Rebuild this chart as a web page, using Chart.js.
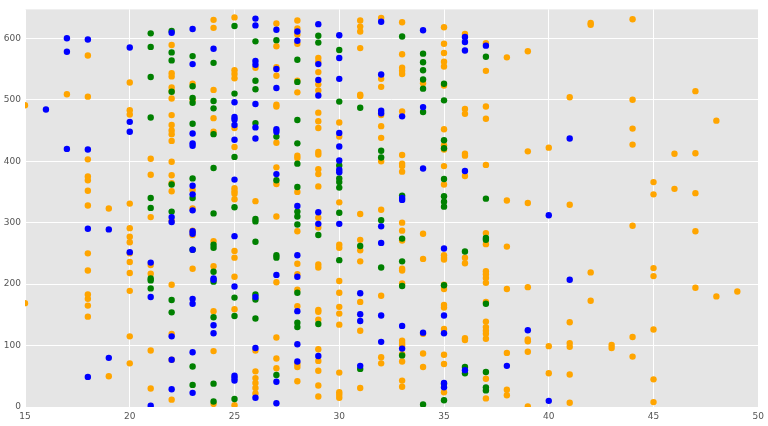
<!DOCTYPE html>
<html>
<head>
<meta charset="utf-8">
<script src="https://cdn.jsdelivr.net/npm/chart.js@4"></script>
<style>
  html, body { margin: 0; padding: 0; background: #fff; }
  #wrap { width: 768px; height: 426px; }
</style>
</head>
<body>
<div id="wrap"><canvas id="scatter"></canvas></div>
<script>
// [age-like x, y] pairs, one list per colour
const orangePts = [
  [15,491],[15,169],[17,509],
  [18,572],[18,505],[18,403],[18,375],[18,369],[18,352],[18,328],[18,250],[18,222],[18,183],[18,176],[18,165],[18,147],
  [19,323],[19,50],
  [20,528],[20,483],[20,476],[20,331],[20,291],[20,277],[20,268],[20,250],[20,236],[20,218],[20,189],[20,115],[20,71],
  [21,404],[21,378],[21,309],[21,231],[21,217],[21,92],[21,30],
  [22,589],[22,543],[22,538],[22,520],[22,514],[22,502],[22,475],[22,459],[22,450],[22,444],[22,433],[22,399],[22,377],[22,364],[22,351],[22,303],[22,199],[22,119],[22,77],[22,12],
  [23,526],[23,500],[23,353],[23,323],[23,287],[23,280],[23,225],
  [24,630],[24,617],[24,516],[24,470],[24,448],[24,270],[24,229],[24,156],[24,91],[24,5],
  [25,634],[25,548],[25,542],[25,535],[25,454],[25,423],[25,356],[25,351],[25,347],[25,338],[25,254],[25,243],[25,212],[25,159],[25,3],
  [26,552],[26,335],[26,92],[26,58],[26,47],[26,39],[26,31],[26,22],
  [27,624],[27,587],[27,553],[27,539],[27,492],[27,489],[27,430],[27,390],[27,363],[27,310],[27,203],[27,113],[27,79],[27,63],
  [28,629],[28,616],[28,606],[28,591],[28,531],[28,512],[28,409],[28,405],[28,350],[28,286],[28,233],[28,216],[28,191],[28,164],[28,70],[28,65],[28,42],
  [29,568],[29,562],[29,545],[29,525],[29,515],[29,479],[29,465],[29,454],[29,415],[29,411],[29,387],[29,379],[29,359],[29,308],[29,292],[29,232],[29,227],[29,158],[29,155],[29,142],[29,94],[29,75],[29,59],[29,35],[29,17],
  [30,463],[30,440],[30,333],[30,264],[30,259],[30,205],[30,186],[30,163],[30,152],[30,134],[30,56],[30,24],[30,20],[30,15],
  [31,629],[31,619],[31,611],[31,584],[31,508],[31,506],[31,314],[31,272],[31,255],[31,237],[31,171],[31,124],[31,31],
  [32,633],[32,534],[32,521],[32,475],[32,457],[32,438],[32,400],[32,321],[32,181],[32,81],[32,71],
  [33,626],[33,574],[33,552],[33,547],[33,542],[33,481],[33,410],[33,396],[33,392],[33,383],[33,300],[33,287],[33,271],[33,225],[33,222],[33,201],[33,108],[33,104],[33,100],[33,86],[33,74],[33,43],[33,33],
  [34,527],[34,282],[34,241],[34,119],[34,87],[34,65],
  [35,618],[35,591],[35,576],[35,562],[35,554],[35,523],[35,452],[35,426],[35,419],[35,392],[35,362],[35,247],[35,243],[35,240],[35,199],[35,192],[35,166],[35,162],[35,127],[35,85],[35,70],[35,24],
  [36,607],[36,485],[36,477],[36,412],[36,409],[36,376],[36,243],[36,234],[36,112],[36,109],
  [37,592],[37,547],[37,489],[37,469],[37,394],[37,283],[37,265],[37,221],[37,216],[37,210],[37,202],[37,171],[37,139],[37,130],[37,124],[37,119],[37,111],[37,46],[37,14],
  [38,569],[38,336],[38,261],[38,192],[38,88],[38,28],[38,19],
  [39,579],[39,416],[39,332],[39,195],[39,110],[39,107],[39,90],[39,1],
  [40,422],[40,99],[40,55],
  [41,504],[41,329],[41,138],[41,104],[41,98],[41,53],[41,7],
  [42,625],[42,622],[42,219],[42,173],
  [43,101],[43,96],
  [44,631],[44,500],[44,453],[44,427],[44,295],[44,114],[44,82],
  [45,366],[45,346],[45,226],[45,213],[45,126],[45,45],[45,8],
  [46,412],[46,355],
  [47,514],[47,413],[47,348],[47,286],[47,194],
  [48,466],[48,180],
  [49,188]
];

const greenPts = [
  [21,608],[21,586],[21,537],[21,471],[21,340],[21,324],[21,209],[21,206],[21,193],
  [22,612],[22,577],[22,564],[22,513],[22,362],[22,318],[22,174],[22,154],
  [23,571],[23,522],[23,503],[23,495],[23,461],[23,372],[23,340],[23,256],[23,66],[23,36],
  [24,560],[24,498],[24,486],[24,444],[24,389],[24,315],[24,264],[24,259],[24,220],[24,204],[24,146],[24,38],[24,9],
  [25,620],[25,510],[25,407],[25,325],[25,178],[25,148],[25,13],
  [26,595],[26,531],[26,517],[26,462],[26,306],[26,302],[26,269],[26,183],[26,175],[26,144],
  [27,597],[27,440],[27,369],[27,247],[27,243],[27,52],
  [28,565],[28,529],[28,467],[28,429],[28,396],[28,358],[28,318],[28,310],[28,297],[28,186],[28,137],[28,130],
  [29,604],[29,593],[29,280],[29,135],
  [30,581],[30,497],[30,393],[30,372],[30,366],[30,357],[30,316],[30,239],
  [31,487],[31,262],[31,62],
  [32,417],[32,406],[32,304],[32,227],
  [33,603],[33,344],[33,274],[33,237],[33,197],[33,84],
  [34,575],[34,561],[34,548],[34,533],[34,518],[34,480],[34,4],
  [35,526],[35,499],[35,434],[35,421],[35,371],[35,343],[35,334],[35,326],[35,198],[35,38],[35,11],
  [36,253],[36,65],[36,55],
  [37,570],[37,339],[37,275],[37,272],[37,168],[37,57],[37,32],[37,27]
];

const bluePts = [
  [16,484],[17,600],[17,578],[17,420],
  [18,598],[18,419],[18,290],[18,49],
  [19,289],[19,80],
  [20,585],[20,464],[20,448],[20,252],
  [21,235],[21,179],[21,2],
  [22,609],[22,309],[22,301],[22,115],[22,77],[22,29],
  [23,615],[23,558],[23,445],[23,429],[23,425],[23,360],[23,346],[23,320],[23,286],[23,282],[23,256],[23,176],[23,168],[23,89],[23,23],
  [24,583],[24,209],[24,207],[24,133],[24,120],
  [25,496],[25,472],[25,468],[25,459],[25,435],[25,370],[25,278],[25,196],[25,51],[25,47],[25,43],
  [26,632],[26,621],[26,563],[26,557],[26,493],[26,455],[26,437],[26,179],[26,96],[26,15],
  [27,614],[27,550],[27,519],[27,452],[27,448],[27,379],[27,215],[27,41],[27,6],
  [28,611],[28,596],[28,327],[28,247],[28,212],[28,156],[28,102],[28,74],
  [29,623],[29,558],[29,532],[29,507],[29,317],[29,298],[29,83],
  [30,605],[30,568],[30,534],[30,446],[30,424],[30,401],[30,386],[30,382],[30,298],
  [31,185],[31,151],[31,140],[31,67],
  [32,627],[32,541],[32,482],[32,478],[32,294],[32,267],[32,149],[32,106],
  [33,473],[33,340],[33,337],[33,132],[33,95],
  [34,613],[34,488],[34,388],[34,121],
  [35,258],[35,149],[35,120],[35,39],[35,32],
  [36,602],[36,594],[36,580],[36,384],[36,60],
  [37,588],[38,67],[39,125],[40,312],[40,10],[41,437],[41,207]
];

const xTicks = [15, 20, 25, 30, 35, 40, 45, 50];
const yTicks = [0, 100, 200, 300, 400, 500, 600];

function toXY(list) {
  return list.map(p => ({ x: p[0], y: p[1] }));
}

// grey ggplot-like panel behind the points
const panelBg = {
  id: 'panelBg',
  beforeDraw(chart) {
    const { ctx, chartArea: a } = chart;
    ctx.save();
    ctx.fillStyle = '#e5e5e5';
    ctx.fillRect(a.left, a.top, a.right - a.left, a.bottom - a.top);
    ctx.restore();
  }
};

const dot = (color) => ({
  backgroundColor: color,
  borderColor: color,
  pointRadius: 3.2,
  pointHoverRadius: 3.2,
  borderWidth: 0
});

new Chart(document.getElementById('scatter'), {
  type: 'scatter',
  data: {
    datasets: [
      { label: 'orange', data: toXY(orangePts), ...dot('#ffa500'), order: 3 },
      { label: 'green', data: toXY(greenPts), ...dot('#008000'), order: 2 },
      { label: 'blue', data: toXY(bluePts), ...dot('#0000ff'), order: 1 }
    ]
  },
  options: {
    responsive: true,
    maintainAspectRatio: false,
    animation: false,
    layout: { padding: { top: 7, right: 8, left: 0, bottom: 0 } },
    plugins: { legend: { display: false }, tooltip: { enabled: false } },
    scales: {
      x: {
        type: 'linear',
        min: 15,
        max: 50,
        afterBuildTicks: (axis) => { axis.ticks = xTicks.map(v => ({ value: v })); },
        afterFit: (axis) => { axis.height = 19; },
        grid: { color: '#ffffff', lineWidth: 1, drawTicks: false, z: 0 },
        border: { display: false },
        ticks: { color: '#555555', font: { family: 'DejaVu Sans', size: 9 }, padding: 4, maxRotation: 0 }
      },
      y: {
        type: 'linear',
        min: 0,
        max: 647,
        afterBuildTicks: (axis) => { axis.ticks = yTicks.map(v => ({ value: v })); },
        afterFit: (axis) => { axis.width = 25; },
        grid: { color: '#ffffff', lineWidth: 1, drawTicks: false },
        border: { display: false },
        ticks: { color: '#555555', font: { family: 'DejaVu Sans', size: 9 }, padding: 4 }
      }
    }
  },
  plugins: [panelBg]
});
</script>
</body>
</html>
